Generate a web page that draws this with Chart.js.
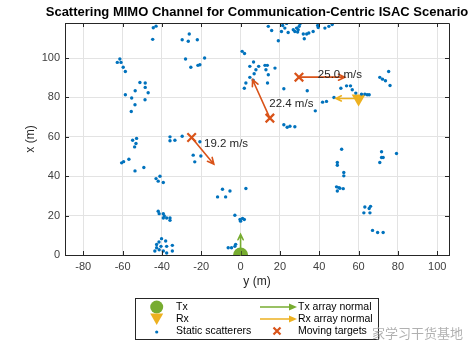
<!DOCTYPE html>
<html>
<head>
<meta charset="utf-8">
<script src="https://cdn.jsdelivr.net/npm/chart.js@4/dist/chart.umd.min.js"></script>
<style>
  body { margin: 0; background: #fff; }
  #wrap { width: 474px; height: 351px; }
</style>
</head>
<body>
<div id="wrap"><canvas id="myChart" width="474" height="351"></canvas></div>
<script>
// ticks
var xTicks = [-80, -60, -40, -20, 0, 20, 40, 60, 80, 100];
var yTicks = [0, 20, 40, 60, 80, 100];
var chartTitle = "Scattering MIMO Channel for Communication-Centric ISAC Scenario";

// static scatterers: horizontal axis is "y (m)", vertical axis is "x (m)"
var scatY = [
  -44.0, -44.4, -43.0, -44.7,
  -62.7, -61.4, -60.8, -59.7, -58.6,
  -51.2, -48.5, -48.5, -53.6, -47.0, -58.6, -55.4, -48.6, -53.7, -55.6,
  -29.7, -26.1, -26.6, -22.0, -28.0, -25.3, -21.7, -20.7, -18.3,
  0.8, 2.0, 4.7, 6.6, 7.8, 9.2, 6.9, 4.7, 2.7, 1.9, 6.4,
  12.4, 13.6, 12.9, 14.1, 17.5, 13.7, 22.0, 33.9, 41.7, 43.7, 38.0,
  14.1, 15.8, 19.2, 20.8, 21.4, 22.5, 23.4, 24.2, 26.8, 27.6, 28.5, 29.3, 29.0, 29.8, 30.2, 31.9, 32.4, 33.6, 34.7, 36.9, 39.2, 39.5, 42.9, 44.9, 46.6,
  51.0, 53.9, 55.9, 56.8, 58.6, 61.5, 63.2, 64.4, 65.4, 47.5,
  70.8, 72.2, 73.7, 75.3, 76.0,
  22.0, 23.7, 25.1, 27.6,
  -54.9, -52.9, -53.2, -53.9, -60.5, -59.5, -56.8, -53.7, -49.2,
  -35.9, -35.9, -33.4, -29.7, -24.1, -23.3, -20.7, -20.2,
  -41.0, -43.0, -41.9, -39.3,
  -41.9, -41.4, -39.3, -38.8, -39.3, -37.6, -35.9, -35.9,
  -40.2, -41.5, -38.1, -42.7, -40.5, -42.7, -37.6, -34.7, -41.4, -39.3, -34.7, -37.6, -43.6,
  -11.7, -9.2, -7.6, -5.4, 2.7,
  -2.9, -0.3, 1.0, 1.9, 0.0,
  -6.3, -4.6, -2.9, -2.5,
  51.4, 49.2, 49.2, 52.5, 52.5, 48.8, 50.5, 52.2, 49.2, 50.0,
  71.7, 71.7, 70.8, 72.5, 79.3,
  63.2, 65.4, 66.1, 62.7, 65.8,
  67.1, 69.7, 72.5
];
var scatX = [
  118.1, 115.4, 116.2, 109.5,
  97.8, 99.5, 97.8, 95.3, 93.2,
  87.6, 87.3, 85.1, 83.4, 82.4, 81.4, 79.7, 78.8, 76.3, 72.9,
  109.3, 112.2, 108.5, 109.3, 99.5, 95.3, 96.3, 96.6, 100.0,
  103.4, 102.3, 95.8, 98.0, 94.1, 95.8, 92.0, 90.2, 87.3, 84.7, 88.8,
  96.3, 96.3, 94.1, 91.5, 94.9, 87.3, 84.4, 83.4, 77.6, 78.0, 73.2,
  116.1, 114.0, 108.8, 113.5, 116.5, 115.2, 117.6, 113.0, 114.4, 113.5, 115.2, 114.4, 113.2, 116.1, 117.3, 112.2, 109.8, 112.2, 112.7, 113.5, 116.5, 115.5, 115.2, 116.1, 117.0,
  84.7, 85.9, 85.9, 83.9, 82.2, 81.7, 81.7, 81.4, 81.4, 80.0,
  90.2, 89.3, 88.5, 93.2, 86.1,
  66.1, 64.9, 65.4, 65.1,
  58.3, 59.2, 56.6, 54.9, 46.8, 47.4, 48.6, 42.7, 44.4,
  60.0, 58.0, 58.3, 60.3, 50.7, 47.3, 57.5, 50.3,
  40.0, 38.8, 37.5, 36.8,
  22.2, 21.0, 21.0, 19.8, 18.8, 18.8, 18.8, 17.6,
  8.3, 6.6, 7.1, 5.3, 4.4, 3.7, 4.4, 4.9, 2.7, 2.0, 2.0, 1.0, 2.0,
  29.5, 33.4, 29.5, 32.5, 33.8,
  20.2, 18.0, 18.5, 18.0, 17.2,
  3.7, 3.7, 4.4, 5.4,
  53.7, 47.0, 45.6, 41.9, 40.2, 34.6, 33.9, 33.7, 32.5, 34.2,
  52.4, 49.5, 47.0, 49.5, 51.5,
  24.4, 23.6, 24.7, 21.4, 21.4,
  12.5, 11.4, 11.4
];

// Tx / Rx
var txPos = [0, 0];
var txNormal = [0, 10.5];
var rxPos = [60, 79.5];
var rxNormal = [-11.5, 0];

// moving targets
var targetY = [29.7, 14.9, -24.9];
var targetX = [90.3, 69.5, 59.7];
var velY = [23.3, -8.8, 11.3];
var velX = [0, 19.5, -13.6];
var speedLabels = ["25.0 m/s", "22.4 m/s", "19.2 m/s"];
var labelY = [39.3, 14.6, -18.6];
var labelX = [91.4, 77.0, 56.7];

var blue = "#0072BD", green = "#77AC30", yellow = "#EDB120", red = "#D95319";
var axisColor = "#262626";
var fontFam = "'Liberation Sans', Arial, sans-serif";

var toPts = function(hs, vs){
  var out = [];
  for (var i = 0; i < hs.length; i++) { out.push({x: hs[i], y: vs[i]}); }
  return out;
};

var drawArrow = function(ctx, x0, y0, x1, y1, color, width, head){
  var ang = Math.atan2(y1 - y0, x1 - x0);
  ctx.save();
  ctx.strokeStyle = color;
  ctx.lineWidth = width;
  ctx.lineCap = "round";
  ctx.beginPath();
  ctx.moveTo(x0, y0);
  ctx.lineTo(x1, y1);
  ctx.moveTo(x1 - head * Math.cos(ang - 0.45), y1 - head * Math.sin(ang - 0.45));
  ctx.lineTo(x1, y1);
  ctx.lineTo(x1 - head * Math.cos(ang + 0.45), y1 - head * Math.sin(ang + 0.45));
  ctx.stroke();
  ctx.restore();
};

var drawFilledArrow = function(ctx, x0, y, x1, color){
  ctx.save();
  ctx.strokeStyle = color;
  ctx.fillStyle = color;
  ctx.lineWidth = 1.5;
  ctx.beginPath();
  ctx.moveTo(x0, y);
  ctx.lineTo(x1 - 6, y);
  ctx.stroke();
  ctx.beginPath();
  ctx.moveTo(x1, y);
  ctx.lineTo(x1 - 8, y - 3.5);
  ctx.lineTo(x1 - 8, y + 3.5);
  ctx.closePath();
  ctx.fill();
  ctx.restore();
};

var extrasPlugin = {
  id: "extras",
  afterDatasetsDraw: function(chart){
    var ctx = chart.ctx, xs = chart.scales.x, ys = chart.scales.y;
    var a = chart.chartArea;
    // box and inward ticks
    ctx.save();
    ctx.strokeStyle = axisColor;
    ctx.lineWidth = 1;
    ctx.beginPath();
    ctx.rect(Math.round(a.left) + 0.5, Math.round(a.top) + 0.5, Math.round(a.right - a.left), Math.round(a.bottom - a.top));
    xTicks.forEach(function(v){
      var p = Math.round(xs.getPixelForValue(v)) + 0.5;
      ctx.moveTo(p, a.bottom); ctx.lineTo(p, a.bottom - 4);
      ctx.moveTo(p, a.top); ctx.lineTo(p, a.top + 4);
    });
    yTicks.forEach(function(v){
      var p = Math.round(ys.getPixelForValue(v)) + 0.5;
      ctx.moveTo(a.left, p); ctx.lineTo(a.left + 4, p);
      ctx.moveTo(a.right, p); ctx.lineTo(a.right - 4, p);
    });
    ctx.stroke();

    // title centred over the axes
    ctx.fillStyle = "#000";
    ctx.font = "bold 13px " + fontFam;
    ctx.textAlign = "center";
    ctx.textBaseline = "middle";
    ctx.fillText(chartTitle, (a.left + a.right) / 2, 12);
    ctx.restore();

    // Tx and Rx array normals
    drawArrow(ctx, xs.getPixelForValue(txPos[0]), ys.getPixelForValue(txPos[1]),
      xs.getPixelForValue(txPos[0] + txNormal[0]), ys.getPixelForValue(txPos[1] + txNormal[1]), green, 1.6, 6);
    drawArrow(ctx, xs.getPixelForValue(rxPos[0]), ys.getPixelForValue(rxPos[1]),
      xs.getPixelForValue(rxPos[0] + rxNormal[0]), ys.getPixelForValue(rxPos[1] + rxNormal[1]), yellow, 1.6, 6);

    // target velocities and labels
    ctx.save();
    ctx.font = "11.5px " + fontFam;
    ctx.fillStyle = axisColor;
    ctx.textBaseline = "middle";
    for (var i = 0; i < targetY.length; i++) {
      drawArrow(ctx, xs.getPixelForValue(targetY[i]), ys.getPixelForValue(targetX[i]),
        xs.getPixelForValue(targetY[i] + velY[i]), ys.getPixelForValue(targetX[i] + velX[i]), red, 1.6, 7);
      ctx.fillText(speedLabels[i], xs.getPixelForValue(labelY[i]), ys.getPixelForValue(labelX[i]));
    }
    ctx.restore();
  },
  afterDraw: function(chart){
    var ctx = chart.ctx;
    // legend box
    ctx.save();
    ctx.fillStyle = "#fff";
    ctx.fillRect(135.5, 298.5, 243, 41);
    ctx.strokeStyle = axisColor;
    ctx.lineWidth = 1;
    ctx.strokeRect(135.5, 298.5, 243, 41);

    var mx = 156.7, rows = [307, 319, 331];
    ctx.fillStyle = green;
    ctx.beginPath(); ctx.arc(mx, rows[0], 6.5, 0, Math.PI * 2); ctx.fill();
    ctx.fillStyle = yellow;
    ctx.beginPath(); ctx.moveTo(mx - 6.5, rows[1] - 5.5); ctx.lineTo(mx + 6.5, rows[1] - 5.5); ctx.lineTo(mx, rows[1] + 6); ctx.closePath(); ctx.fill();
    ctx.fillStyle = blue;
    ctx.beginPath(); ctx.arc(mx, rows[2] + 1, 1.6, 0, Math.PI * 2); ctx.fill();

    drawFilledArrow(ctx, 260, rows[0], 297, green);
    drawFilledArrow(ctx, 260, rows[1], 297, yellow);
    ctx.strokeStyle = red; ctx.lineWidth = 2.2;
    ctx.beginPath();
    ctx.moveTo(273.5, rows[2] - 3.5); ctx.lineTo(280.5, rows[2] + 3.5);
    ctx.moveTo(280.5, rows[2] - 3.5); ctx.lineTo(273.5, rows[2] + 3.5);
    ctx.stroke();

    ctx.fillStyle = "#000";
    ctx.font = "10.5px " + fontFam;
    ctx.textBaseline = "middle";
    ctx.fillText("Tx", 176, rows[0]);
    ctx.fillText("Rx", 176, rows[1]);
    ctx.fillText("Static scatterers", 176, rows[2]);
    ctx.fillText("Tx array normal", 298, rows[0]);
    ctx.fillText("Rx array normal", 298, rows[1]);
    ctx.fillText("Moving targets", 298, rows[2]);

    // watermark
    ctx.fillStyle = "rgba(150,150,150,0.75)";
    ctx.font = "13px 'Noto Sans CJK SC', sans-serif";
    ctx.fillText("家学习干货基地", 372, 333);
    ctx.restore();
  }
};

var ctx = document.getElementById("myChart");
var myChart = new Chart(ctx, {
  type: "scatter",
  data: {
    datasets: [
      { label: "Static scatterers", data: toPts(scatY, scatX), backgroundColor: blue, borderColor: blue, pointRadius: 1.7, borderWidth: 0 },
      { label: "Tx", data: [{x: txPos[0], y: txPos[1]}], backgroundColor: green, borderColor: green, pointRadius: 7.5, borderWidth: 0 },
      { label: "Rx", data: [{x: rxPos[0], y: rxPos[1]}], backgroundColor: yellow, borderColor: yellow, pointStyle: "triangle", rotation: 180, pointRadius: 8, borderWidth: 0 },
      { label: "Moving targets", data: toPts(targetY, targetX), backgroundColor: red, borderColor: red, pointStyle: "crossRot", pointRadius: 6, borderWidth: 2.2 }
    ]
  },
  options: {
    responsive: false,
    animation: false,
    events: [],
    layout: { padding: { left: 0, right: 25, top: 23, bottom: 56 } },
    plugins: {
      legend: { display: false },
      tooltip: { enabled: false },
      title: { display: false }
    },
    scales: {
      x: {
        type: "linear",
        min: -89.3,
        max: 106,
        grid: { color: "#e3e3e3", drawTicks: false },
        border: { color: axisColor },
        ticks: { color: "#404040", font: { family: fontFam, size: 11 }, padding: 5 },
        title: { display: true, text: "y (m)", color: axisColor, font: { family: fontFam, size: 12 }, padding: { top: 0, bottom: 6 } },
        afterBuildTicks: function(s){ s.ticks = xTicks.map(function(v){ return {value: v}; }); },
        afterFit: function(s){ s.height = 40; }
      },
      y: {
        type: "linear",
        min: 0,
        max: 117.8,
        grid: { color: "#e3e3e3", drawTicks: false },
        border: { color: axisColor },
        ticks: { color: "#404040", font: { family: fontFam, size: 11 }, padding: 5 },
        title: { display: true, text: "x (m)", color: axisColor, font: { family: fontFam, size: 12 }, padding: { top: 23, bottom: 0 } },
        afterBuildTicks: function(s){ s.ticks = yTicks.map(function(v){ return {value: v}; }); },
        afterFit: function(s){ s.width = 65; }
      }
    }
  },
  plugins: [extrasPlugin]
});
</script>
</body>
</html>
